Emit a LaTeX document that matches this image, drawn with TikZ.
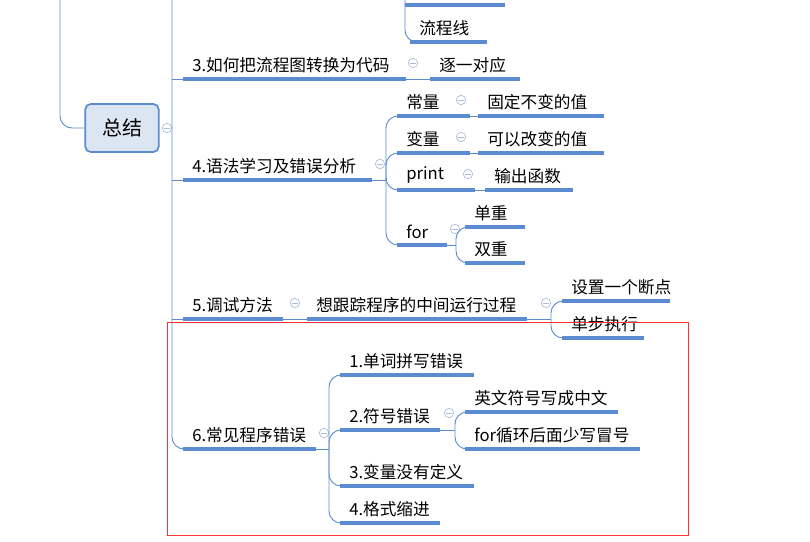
\documentclass[tikz,border=0pt]{standalone}
\usepackage{fontspec}
\setmainfont{Noto Sans CJK SC}
\usetikzlibrary{positioning}

\definecolor{mapblue}{HTML}{5B8BD0}
\definecolor{rootfill}{HTML}{DCE6F2}
\definecolor{foldgray}{HTML}{A9BCDD}

% a topic: name, left x, right x, underline y, text
\newcommand{\topic}[5]{%
  \coordinate (#1-l) at (#2,#4);
  \coordinate (#1-r) at (#3,#4);
  \draw[uline] (#1-l) -- (#1-r);
  \node[lbl] (#1) at ($(#1-l)+(9,-6)$) {#5};}
% a fold mark: name, x, y
\newcommand{\fold}[3]{\node[foldmark] (#1) at (#2,#3) {};}

\usetikzlibrary{calc}

\begin{document}
\begin{tikzpicture}[x=0.75pt,y=-0.75pt,
  uline/.style={mapblue,line width=2.4pt},
  link/.style={mapblue,line width=0.7pt,rounded corners=9pt},
  lbl/.style={anchor=south west,inner sep=0pt,font=\fontsize{12.5}{14}\selectfont},
  foldmark/.style={circle,draw=foldgray,line width=0.5pt,minimum size=7pt,inner sep=0pt,
    path picture={\draw[foldgray,line width=0.5pt] ([xshift=-2pt]path picture bounding box.center) -- ([xshift=2pt]path picture bounding box.center);}},
  rootbox/.style={draw=mapblue,fill=rootfill,line width=1.3pt,rounded corners=4pt,
    minimum width=55pt,minimum height=36pt,font=\fontsize{15}{18}\selectfont}]
  \useasboundingbox (0,0) rectangle (810,542);

  % root
  \node[rootbox] (root) at (122,128) {总结};
  \fold{froot}{167}{128}
  \coordinate (up) at (60,0);
  \draw[link] (up) |- (root.west);

  % part of the branch above
  \coordinate (flowfork) at (405,0);
  \topic{prev}{405}{505}{5}{}
  \topic{flow}{410}{487}{42}{流程线}
  \draw[link] (flowfork) |- (flow-l);

  % trunk
  \coordinate (trunk) at (172,0);
  \topic{b3}{183}{406}{79}{3.如何把流程图转换为代码}
  \topic{b4}{183}{372}{180}{4.语法学习及错误分析}
  \topic{b5}{183}{283}{319}{5.调试方法}
  \topic{b6}{183}{316}{449}{6.常见程序错误}
  \draw[link] (trunk) |- (b6-l);
  \foreach \b in {b3,b4,b5}
    \draw[link] (trunk |- \b-l) -- (\b-l);

  % 3
  \fold{f3}{413}{63}
  \topic{map}{430}{520}{79}{逐一对应}
  \draw[link] (b3-r) -- (map-l);

  % 4
  \fold{f4}{380}{164}
  \coordinate (k4) at (386,180);
  \topic{const}{397}{470}{116}{常量}
  \topic{var}{397}{470}{153}{变量}
  \topic{print}{397}{475}{190}{print}
  \topic{for}{397}{447}{245}{for}
  \draw[link] (b4-r) -- (k4);
  \foreach \c in {const,var,print,for}
    \draw[link] (k4) |- (\c-l);
  \fold{fc}{461}{100}
  \fold{fv}{461}{137}
  \fold{fp}{468}{174}
  \fold{ff}{455}{229}
  \topic{fixed}{478}{604}{116}{固定不变的值}
  \topic{change}{478}{604}{153}{可以改变的值}
  \topic{out}{485}{573}{190}{输出函数}
  \draw[link] (const-r) -- (fixed-l);
  \draw[link] (var-r) -- (change-l);
  \draw[link] (print-r) -- (out-l);
  \coordinate (kf) at (456,245);
  \topic{single}{465}{525}{227}{单重}
  \topic{double}{465}{525}{263}{双重}
  \draw[link] (for-r) -- (kf);
  \draw[link] (kf) |- (single-l);
  \draw[link] (kf) |- (double-l);

  % 5
  \fold{f5}{295}{303}
  \topic{trace}{307}{527}{319}{想跟踪程序的中间运行过程}
  \draw[link] (b5-r) -- (trace-l);
  \fold{ft}{546}{303}
  \coordinate (kt) at (551,319);
  \topic{brk}{562}{670}{301}{设置一个断点}
  \topic{step1}{562}{644}{338}{单步执行}
  \draw[link] (trace-r) -- (kt);
  \draw[link] (kt) |- (brk-l);
  \draw[link] (kt) |- (step1-l);

  % 6
  \fold{f6}{324}{433}
  \coordinate (k6) at (329,449);
  \topic{e1}{340}{474}{375}{1.单词拼写错误}
  \topic{e2}{340}{440}{430}{2.符号错误}
  \topic{e3}{340}{474}{486}{3.变量没有定义}
  \topic{e4}{340}{440}{523}{4.格式缩进}
  \draw[link] (b6-r) -- (k6);
  \foreach \e in {e1,e2,e3,e4}
    \draw[link] (k6) |- (\e-l);
  \fold{fe2}{449}{413}
  \coordinate (ke) at (455,430);
  \topic{cn}{465}{618}{412}{英文符号写成中文}
  \topic{colon}{465}{640}{449}{for循环后面少写冒号}
  \draw[link] (e2-r) -- (ke);
  \draw[link] (ke) |- (cn-l);
  \draw[link] (ke) |- (colon-l);

  % highlight frame
  \draw[red!80,line width=0.6pt] (167,322) rectangle (688,535);
\end{tikzpicture}
\end{document}
